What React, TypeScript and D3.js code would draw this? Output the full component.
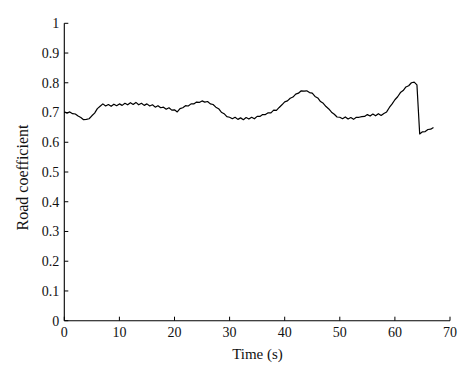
import React from "react";
import * as d3 from "d3";

const timeStep = 0.5;
const roadCoefficient: number[] = [
  0.702, 0.698, 0.702, 0.696, 0.695, 0.688, 0.683, 0.676, 0.677, 0.679,
  0.689, 0.698, 0.713, 0.721, 0.729, 0.722, 0.727, 0.721, 0.728, 0.723,
  0.729, 0.724, 0.731, 0.726, 0.733, 0.727, 0.734, 0.726, 0.731, 0.724,
  0.729, 0.722, 0.726, 0.718, 0.723, 0.716, 0.718, 0.711, 0.716, 0.708,
  0.709, 0.702, 0.713, 0.716, 0.723, 0.722, 0.729, 0.729, 0.735, 0.734,
  0.739, 0.735, 0.737, 0.729, 0.727, 0.718, 0.713, 0.701, 0.696, 0.686,
  0.684, 0.679, 0.684, 0.677, 0.682, 0.676, 0.683, 0.678, 0.684, 0.679,
  0.687, 0.687, 0.693, 0.693, 0.699, 0.699, 0.708, 0.707, 0.717, 0.726,
  0.736, 0.739, 0.748, 0.752, 0.762, 0.765, 0.773, 0.772, 0.773, 0.767,
  0.765, 0.754, 0.749, 0.737, 0.731, 0.720, 0.712, 0.701, 0.694, 0.685,
  0.684, 0.679, 0.685, 0.678, 0.683, 0.677, 0.684, 0.684, 0.686, 0.687,
  0.693, 0.688, 0.695, 0.689, 0.696, 0.690, 0.697, 0.702, 0.717, 0.729,
  0.743, 0.753, 0.767, 0.774, 0.786, 0.790, 0.800, 0.802, 0.793, 0.628,
  0.635, 0.636, 0.643, 0.644, 0.650,
];
const xTicks = [0, 10, 20, 30, 40, 50, 60, 70];
const yTicks = [0, 0.1, 0.2, 0.3, 0.4, 0.5, 0.6, 0.7, 0.8, 0.9, 1];
const xLabel = "Time (s)";
const yLabel = "Road coefficient";

export default function App() {
  const W = 474, H = 380;
  const x = d3.scaleLinear().domain([0, 70]).range([64.3, 450]);
  const y = d3.scaleLinear().domain([0, 1]).range([320.7, 23.3]);
  const line = d3
    .line<number>()
    .x((_, i) => x(i * timeStep))
    .y((d) => y(d));
  const font = '"Liberation Serif"';
  return (
    <svg
      width={W}
      height={H}
      style={{ position: "absolute", left: 0, top: 0, background: "#fff" }}
    >
      <rect width={W} height={H} fill="#fff" />
      <line x1={x(0)} x2={x(70)} y1={y(0)} y2={y(0)} stroke="#000" strokeWidth={1.1} />
      <line x1={x(0)} x2={x(0)} y1={y(0)} y2={y(1)} stroke="#000" strokeWidth={1.1} />
      {xTicks.map((t) => (
        <g key={"x" + t}>
          <line x1={x(t)} x2={x(t)} y1={y(0)} y2={y(0) - 4} stroke="#000" strokeWidth={1} />
          <text x={x(t)} y={y(0) + 16} textAnchor="middle" fontSize={14} fill="#111" style={{ fontFamily: font }}>
            {t}
          </text>
        </g>
      ))}
      {yTicks.map((t) => (
        <g key={"y" + t}>
          <line x1={x(0)} x2={x(0) + 4} y1={y(t)} y2={y(t)} stroke="#000" strokeWidth={1} />
          <text x={x(0) - 5} y={y(t) + 4.8} textAnchor="end" fontSize={14} fill="#111" style={{ fontFamily: font }}>
            {t}
          </text>
        </g>
      ))}
      <text x={257.5} y={359} textAnchor="middle" fontSize={15} fill="#111" style={{ fontFamily: font }}>
        {xLabel}
      </text>
      <text
        transform="translate(28, 177.5) rotate(-90)"
        textAnchor="middle"
        fontSize={16}
        fill="#111"
        style={{ fontFamily: font }}
      >
        {yLabel}
      </text>
      <path d={line(roadCoefficient) || ""} fill="none" stroke="#000" strokeWidth={1.2} strokeLinejoin="round" />
    </svg>
  );
}
